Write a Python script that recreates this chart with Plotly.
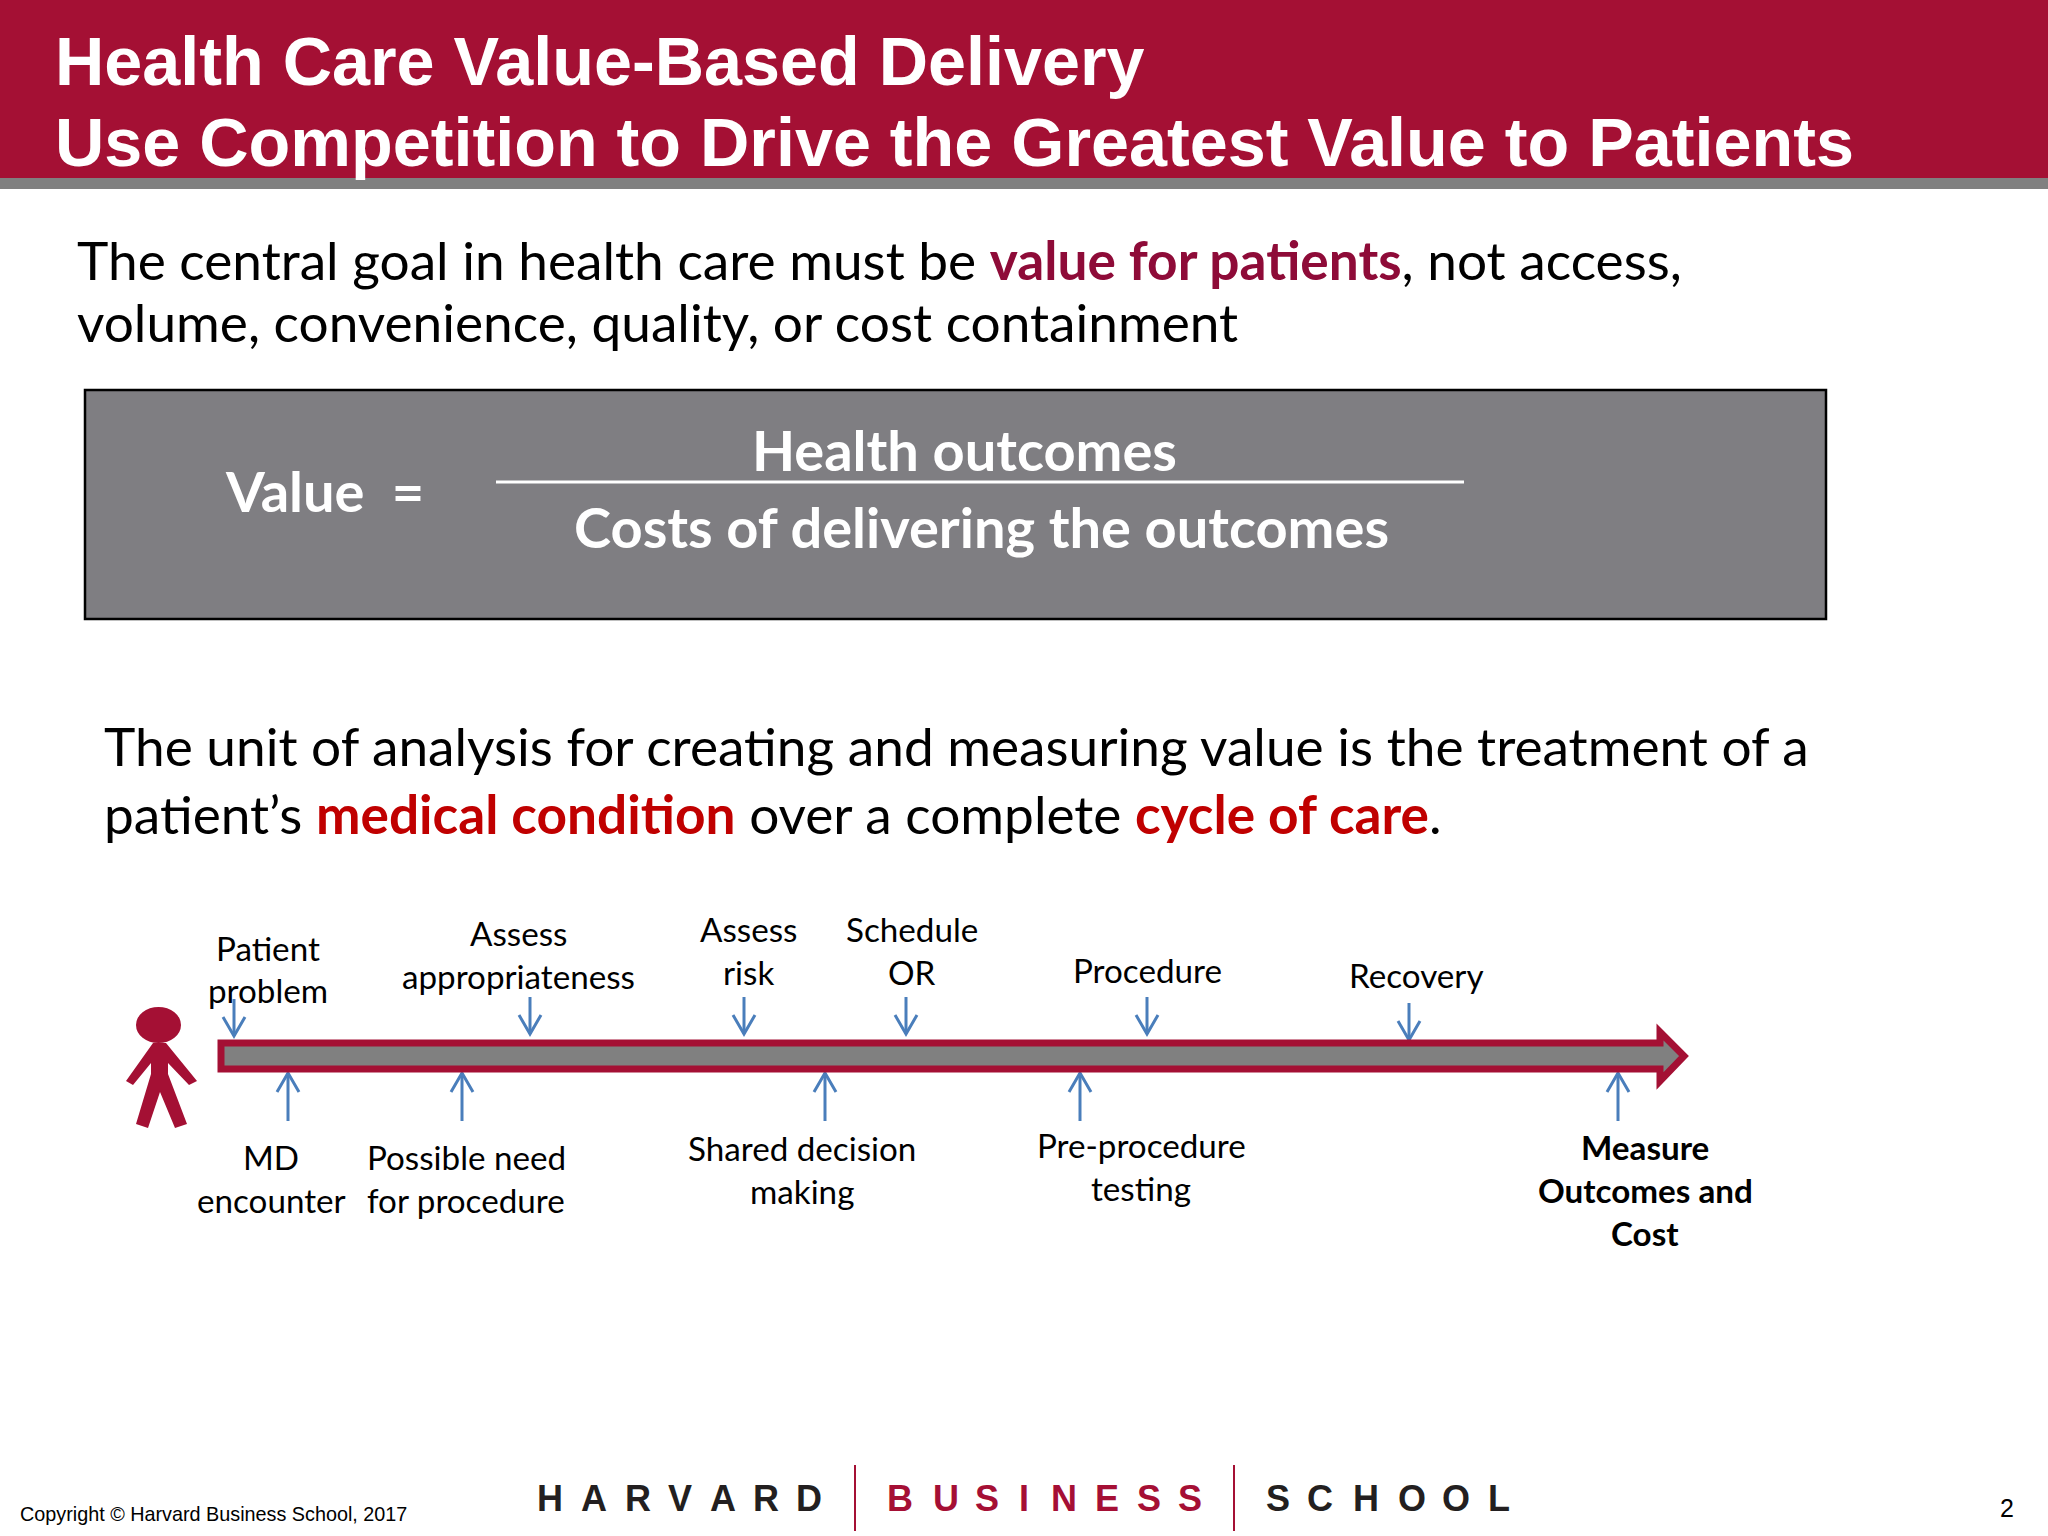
import plotly.graph_objects as go

CRIMSON = "#A41034"
BLUE = "#4A7EBB"
BODY_FONT = "Lato"
HEAD_FONT = "Liberation Sans"

title_lines = ["Health Care Value-Based Delivery", "Use Competition to Drive the Greatest Value to Patients"]
goal_lines = [
    'The central goal in health care must be <b><span style="color:#8E0B38">value for patients</span></b>, not access,',
    "volume, convenience, quality, or cost containment",
]
unit_lines = [
    "The unit of analysis for creating and measuring value is the treatment of a",
    'patient\u2019s <b><span style="color:#C00000">medical condition</span></b> over a complete <b><span style="color:#C00000">cycle of care</span></b>.',
]

# steps above the timeline
top_labels = [["Patient", "problem"], ["Assess", "appropriateness"], ["Assess", "risk"],
              ["Schedule", "OR"], ["Procedure"], ["Recovery"]]
top_label_x = [268, 518, 748, 912, 1147, 1416]
top_label_y = [[948, 990], [933, 976], [929, 972], [929, 972], [970], [975]]
down_x = [234, 530, 744, 906, 1147, 1409]
down_tip = [1036, 1034, 1034, 1034, 1034, 1040]

# steps below the timeline
bottom_labels = [["MD", "encounter"], ["Possible need", "for procedure"], ["Shared decision", "making"],
                 ["Pre-procedure", "testing"], ["<b>Measure</b>", "<b>Outcomes and</b>", "<b>Cost</b>"]]
bottom_label_x = [271, 466, 802, 1141, 1645]
bottom_label_y = [[1157, 1200], [1157, 1200], [1148, 1191], [1145, 1188], [1147, 1190, 1233]]
up_x = [288, 462, 825, 1080, 1618]

logo_words = ["HARVARD", "BUSINESS", "SCHOOL"]
logo_x = [[550, 594, 638, 680, 723, 766, 809],
          [900, 946, 987, 1024, 1064, 1107, 1149, 1190],
          [1278, 1320, 1366, 1412, 1456, 1499]]
logo_colors = ["#231F20", "#A50F35", "#231F20"]

fig = go.Figure()


def text(x, y, s, size, color="black", font=BODY_FONT, anchor="left"):
    fig.add_annotation(x=x, y=y, text=s, showarrow=False, xanchor=anchor, yanchor="middle",
                       xref="x", yref="y", font=dict(family=font, size=size, color=color),
                       borderpad=0, borderwidth=0)


def rect(x0, y0, x1, y1, fill, line=None, width=0):
    fig.add_shape(type="rect", x0=x0, y0=y0, x1=x1, y1=y1, xref="x", yref="y", fillcolor=fill,
                  line=dict(color=line, width=width), layer="below")


# banner
rect(0, 0, 2048, 178, CRIMSON)
rect(0, 178, 2048, 189, "#808080")
text(55, 61, "<b>" + title_lines[0] + "</b>", 68.3, "white", HEAD_FONT)
text(55, 142, "<b>" + title_lines[1] + "</b>", 68.3, "white", HEAD_FONT)

# body text
text(77, 259, goal_lines[0], 53.2)
text(77, 321, goal_lines[1], 53.2)
text(104, 745, unit_lines[0], 53.2)
text(104, 813, unit_lines[1], 53.2)

# value box
rect(85, 390, 1826, 619, "#7F7E82", "black", 2.5)
text(225, 490, "<b>Value  =</b>", 56, "white")
text(964, 449, "<b>Health outcomes</b>", 56, "white", anchor="center")
text(981, 526, "<b>Costs of delivering the outcomes</b>", 56, "white", anchor="center")
fig.add_shape(type="line", x0=496, y0=482, x1=1464, y1=482, xref="x", yref="y",
              line=dict(color="white", width=3))

# timeline arrow
fig.add_shape(type="path", xref="x", yref="y", fillcolor="#808080", line=dict(color=CRIMSON, width=7),
              path="M 221 1043 L 1660 1043 L 1660 1032 L 1684 1056 L 1660 1081 L 1660 1069 L 221 1069 Z")

# person
fig.add_shape(type="circle", xref="x", yref="y", x0=136, y0=1007, x1=181, y1=1043,
              fillcolor=CRIMSON, line_width=0)
fig.add_shape(type="path", xref="x", yref="y", fillcolor=CRIMSON, line_width=0,
              path="M 153 1043 L 126 1081 L 133 1085 L 151 1063 L 151 1074 L 136 1124 L 148 1128 "
                   "L 160 1092 L 175 1128 L 187 1124 L 168 1074 L 168 1063 L 189 1085 L 197 1081 L 166 1043 Z")


def step_arrow(x, tip, tail, direction):
    # open V head, direction is +1 when pointing down
    fig.add_trace(go.Scatter(x=[x, x, None, x - 11, x, x + 11],
                             y=[tail, tip, None, tip - direction * 19, tip, tip - direction * 19],
                             mode="lines", line=dict(color=BLUE, width=3), hoverinfo="skip", showlegend=False))


for x, tip in zip(down_x, down_tip):
    step_arrow(x, tip, tip - 37, 1)
for x in up_x:
    step_arrow(x, 1073, 1121, -1)

for lines, x, ys in zip(top_labels, top_label_x, top_label_y):
    for s, y in zip(lines, ys):
        text(x, y, s, 33.2, anchor="center")
for lines, x, ys in zip(bottom_labels, bottom_label_x, bottom_label_y):
    for s, y in zip(lines, ys):
        text(x, y, s, 33.2, anchor="center")

# footer
text(20, 1514, "Copyright \u00a9 Harvard Business School, 2017", 19.8, font=HEAD_FONT)
text(2007, 1508, "2", 25, font=HEAD_FONT, anchor="center")
for word, xs, color in zip(logo_words, logo_x, logo_colors):
    for ch, x in zip(word, xs):
        text(x, 1498, "<b>" + ch + "</b>", 36, color, HEAD_FONT, "center")
for x in [855, 1234]:
    fig.add_shape(type="line", x0=x, y0=1465, x1=x, y1=1531, xref="x", yref="y",
                  line=dict(color=CRIMSON, width=2))

fig.update_xaxes(range=[0, 2048], visible=False, fixedrange=True)
fig.update_yaxes(range=[1536, 0], visible=False, fixedrange=True)
fig.update_layout(width=2048, height=1536, margin=dict(l=0, r=0, t=0, b=0),
                  paper_bgcolor="white", plot_bgcolor="white", showlegend=False)

# page default margin would shift the slide by 8px
fig.write_html("out.html", config={"displayModeBar": False},
               post_script="document.body.style.margin='0';")
